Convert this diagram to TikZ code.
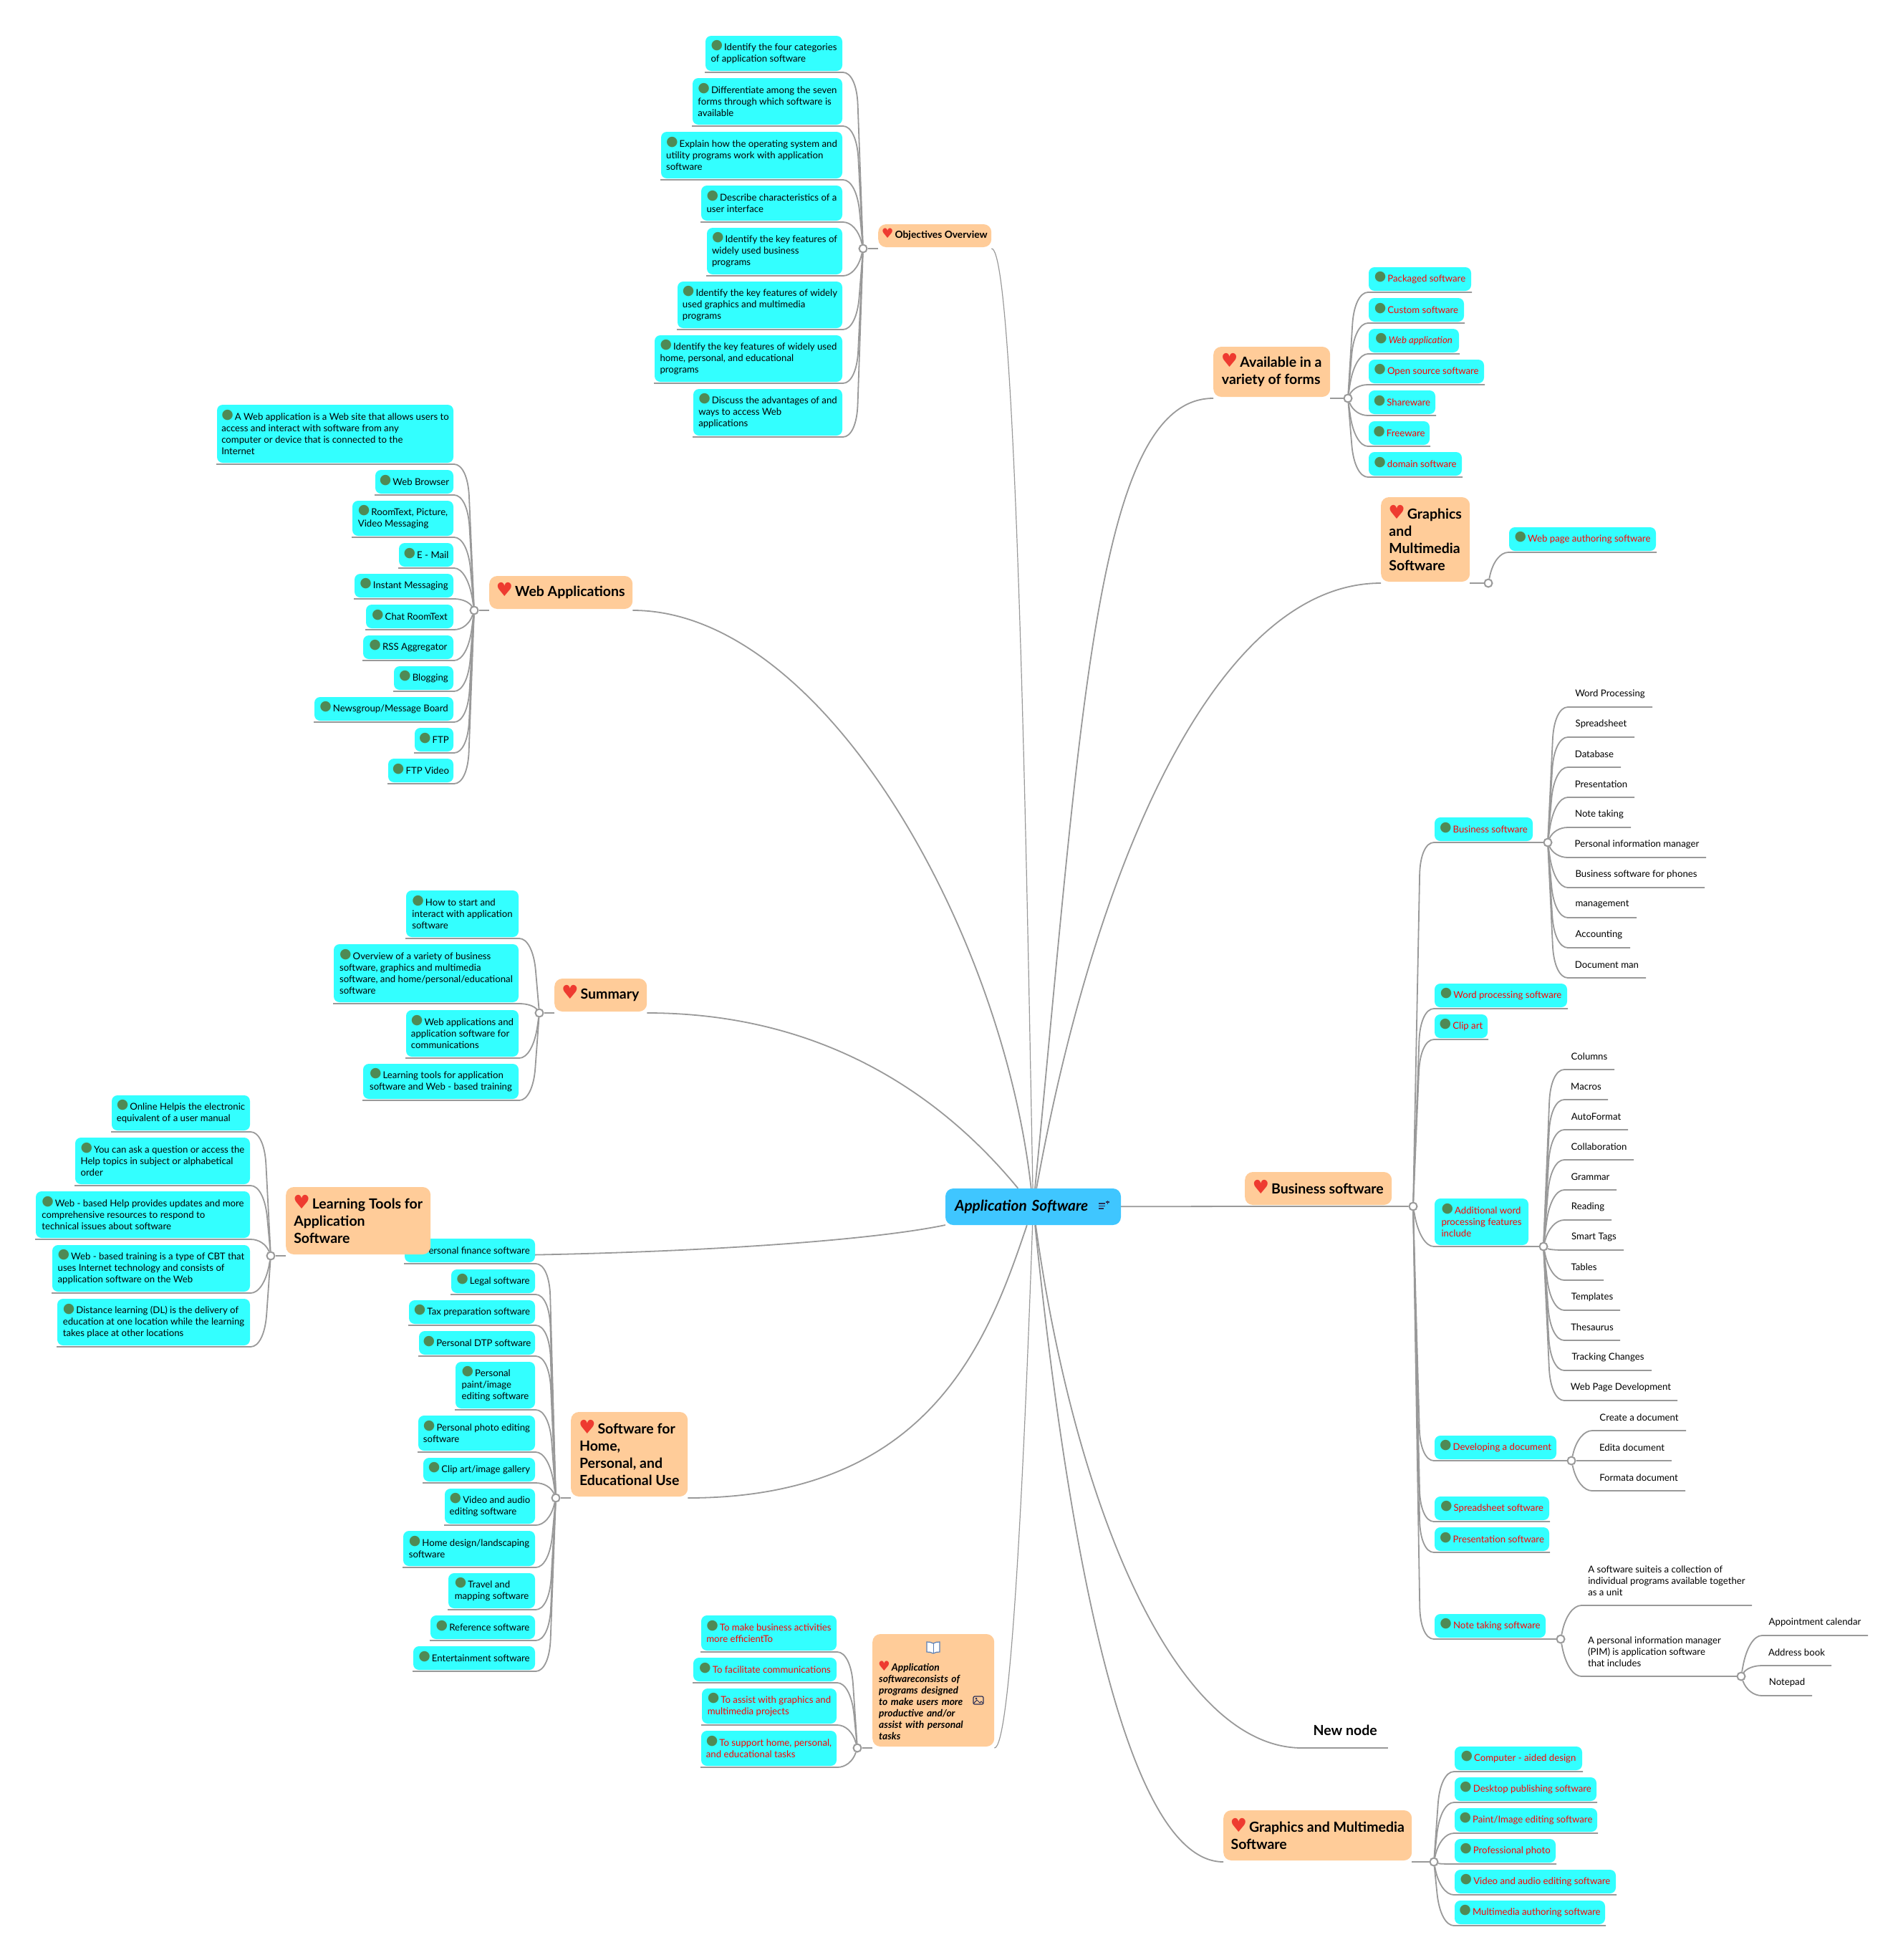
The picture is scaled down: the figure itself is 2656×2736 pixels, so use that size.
\documentclass[tikz,border=0pt]{standalone}
\usepackage{fontspec}
\usepackage{xcolor}
\usepackage{tikz}
\usetikzlibrary{backgrounds, calc}
\setmainfont{Lato}
\newfontfamily\dejavu{DejaVu Sans}
\definecolor{leafcyan}{HTML}{33FFFF}
\definecolor{branchorange}{HTML}{FFCC99}
\definecolor{rootblue}{HTML}{3FC6FF}
\definecolor{dotgreen}{HTML}{4F8A55}
\definecolor{heartred}{HTML}{EE3B30}
\definecolor{linegray}{HTML}{999999}
\definecolor{icondark}{HTML}{2B2F55}
\definecolor{bookblue}{HTML}{5A7FB5}
\newcommand{\grn}{\smash{\raisebox{1.5pt}{\textcolor{dotgreen}{\normalfont\dejavu\fontsize{19}{16}\selectfont ●}}}\hspace{2pt}}
\newcommand{\hrt}{\hspace{-1pt}\smash{\scalebox{1.35}{\textcolor{heartred}{\normalfont\dejavu ♥}}}\hspace{0.15em}}
\newcommand{\twigl}[2]{\draw[link] let \p1=(#1.south east), \p2=(#2), \n1={min(45,0.8*abs(\y2-\y1))}, \p3=($(\p1)+(19pt,0pt)$), \p4=($(\p3)!\n1!(#2)$) in (#1.south west) -- (\p1) .. controls ($(\p1)!0.6!(\p3)$) and ($(\p3)!0.4!(\p4)$) .. (\p4) -- (#2);}
\newcommand{\twigr}[2]{\draw[link] let \p1=(#1.south west), \p2=(#2), \n1={min(45,0.8*abs(\y2-\y1))}, \p3=($(\p1)+(-19pt,0pt)$), \p4=($(\p3)!\n1!(#2)$) in (#1.south east) -- (\p1) .. controls ($(\p1)!0.6!(\p3)$) and ($(\p3)!0.4!(\p4)$) .. (\p4) -- (#2);}
\tikzset{
    wd/.style={minimum width=#1pt},
    rows/.style={minimum height=#1*16pt+17pt},
    brows/.style={minimum height=#1*24pt+22pt},
    plainleaf/.style={align=left, inner xsep=2pt, inner ysep=0pt, outer xsep=1pt, outer ysep=2pt, rows=1, font=\fontsize{13.2}{16}\selectfont},
    leaf/.style={plainleaf, fill=leafcyan, rounded corners=8pt},
    leafl/.style={leaf, anchor=south east},
    leafr/.style={leaf, anchor=south west, text=red},
    redl/.style={leafl, text=red},
    sub/.style={plainleaf, anchor=south west},
    branch/.style={align=left, inner xsep=2pt, inner ysep=0pt, outer ysep=2pt, anchor=south west, fill=branchorange, rounded corners=11pt, font=\bfseries\fontsize{19.5}{24}\selectfont},
    hub/.style={circle, draw=linegray, fill=white, line width=2pt, minimum size=11pt, inner sep=0pt},
    link/.style={draw=linegray, line width=1.8pt},
    thinlink/.style={draw=linegray, line width=1.2pt}
}
\begin{document}
\begin{tikzpicture}[x=1pt, y=-1pt]
    \useasboundingbox (0,0) rectangle (2656,2736);

    \node[fill=rootblue, rounded corners=11pt, minimum height=51pt, text width=219pt, inner xsep=13pt, font=\bfseries\itshape\fontsize{20.8}{24}\selectfont] (root) at (1442.5,1684.5) {Application Software};

    % objectives
    \node[branch, wd=158, minimum height=32pt, font=\bfseries\fontsize{13.8}{16}\selectfont] (objectives) at (1226,347) {\hrt Objectives Overview};
    \node[hub] (objhub) at (1205,347) {};
    \node[leafl, wd=191, rows=2] (obj1) at (1177,101) {\grn Identify the four categories\\of application software};
    \node[leafl, wd=209, rows=3] (obj2) at (1177,176) {\grn Differentiate among the seven\\forms through which software is\\available};
    \node[leafl, wd=253, rows=3] (obj3) at (1177,251) {\grn Explain how the operating system and\\utility programs work with application\\software};
    \node[leafl, wd=197, rows=2] (obj4) at (1177,310) {\grn Describe characteristics of a\\user interface};
    \node[leafl, wd=189, rows=3] (obj5) at (1177,385) {\grn Identify the key features of\\widely used business\\programs};
    \node[leafl, wd=230, rows=3] (obj6) at (1177,460) {\grn Identify the key features of widely\\used graphics and multimedia\\programs};
    \node[leafl, wd=262, rows=3] (obj7) at (1177,535) {\grn Identify the key features of widely used\\home, personal, and educational\\programs};
    \node[leafl, wd=208, rows=3] (obj8) at (1177,610) {\grn Discuss the advantages of and\\ways to access Web\\applications};

    % web applications
    \node[branch, wd=200, brows=1] (webapps) at (683,852) {\hrt Web Applications};
    \node[hub] (webhub) at (662,852) {};
    \node[leafl, wd=330, rows=4] (web1) at (634,648) {\grn A Web application is a Web site that allows users to\\access and interact with software from any\\computer or device that is connected to the\\Internet};
    \node[leafl, wd=109] (web2) at (634,691) {\grn Web Browser};
    \node[leafl, wd=141, rows=2] (web3) at (634,750) {\grn RoomText, Picture,\\Video Messaging};
    \node[leafl, wd=76] (web4) at (634,793) {\grn E - Mail};
    \node[leafl, wd=138] (web5) at (634,836) {\grn Instant Messaging};
    \node[leafl, wd=122] (web6) at (634,879) {\grn Chat RoomText};
    \node[leafl, wd=126] (web7) at (634,922) {\grn RSS Aggregator};
    \node[leafl, wd=83] (web8) at (634,965) {\grn Blogging};
    \node[leafl, wd=194] (web9) at (634,1008) {\grn Newsgroup/Message Board};
    \node[leafl, wd=54] (web10) at (634,1051) {\grn FTP};
    \node[leafl, wd=91] (web11) at (634,1094) {\grn FTP Video};

    % summary
    \node[branch, wd=129, brows=1] (summary) at (774,1414) {\hrt Summary};
    \node[hub] (sumhub) at (753,1414) {};
    \node[leafl, wd=157, rows=3] (sum1) at (725,1310) {\grn How to start and\\interact with application\\software};
    \node[leafl, wd=258, rows=4] (sum2) at (725,1401) {\grn Overview of a variety of business\\software, graphics and multimedia\\software, and home/personal/educational\\software};
    \node[leafl, wd=157, rows=3] (sum3) at (725,1477) {\grn Web applications and\\application software for\\communications};
    \node[leafl, wd=217, rows=2] (sum4) at (725,1536) {\grn Learning tools for application\\software and Web - based training};

    % software for home
    \node[branch, wd=163, brows=4] (homeedu) at (797,2091) {\hrt Software for\\Home,\\Personal, and\\Educational Use};
    \node[hub] (homehub) at (776,2091) {};
    \node[leafl, wd=182] (home1) at (748,1764) {\grn Personal finance software};
    \node[leafl, wd=117] (home2) at (748,1807) {\grn Legal software};
    \node[leafl, wd=176] (home3) at (748,1850) {\grn Tax preparation software};
    \node[leafl, wd=162] (home4) at (748,1893) {\grn Personal DTP software};
    \node[leafl, wd=111, rows=3] (home5) at (748,1968) {\grn Personal\\paint/image\\editing software};
    \node[leafl, wd=163, rows=2] (home6) at (748,2027) {\grn Personal photo editing\\software};
    \node[leafl, wd=156] (home7) at (748,2070) {\grn Clip art/image gallery};
    \node[leafl, wd=126, rows=2] (home8) at (748,2129) {\grn Video and audio\\editing software};
    \node[leafl, wd=184, rows=2] (home9) at (748,2188) {\grn Home design/landscaping\\software};
    \node[leafl, wd=121, rows=2] (home10) at (748,2247) {\grn Travel and\\mapping software};
    \node[leafl, wd=146] (home11) at (748,2290) {\grn Reference software};
    \node[leafl, wd=170] (home12) at (748,2333) {\grn Entertainment software};

    % learning tools
    \node[branch, wd=202, brows=3] (learning) at (399,1753) {\hrt Learning Tools for\\Application\\Software};
    \node[hub] (learnhub) at (378,1753) {};
    \node[leafl, wd=193, rows=2] (learn1) at (350,1580) {\grn Online Helpis the electronic\\equivalent of a user manual};
    \node[leafl, wd=244, rows=3] (learn2) at (350,1655) {\grn You can ask a question or access the\\Help topics in subject or alphabetical\\order};
    \node[leafl, wd=299, rows=3] (learn3) at (350,1730) {\grn Web - based Help provides updates and more\\comprehensive resources to respond to\\technical issues about software};
    \node[leafl, wd=276, rows=3] (learn4) at (350,1805) {\grn Web - based training is a type of CBT that\\uses Internet technology and consists of\\application software on the Web};
    \node[leafl, wd=269, rows=3] (learn5) at (350,1880) {\grn Distance learning (DL) is the delivery of\\education at one location while the learning\\takes place at other locations};

    % definition
    \node[branch, text width=152pt, inner xsep=9pt, minimum height=157pt, font=\bfseries\itshape\fontsize{13.8}{16}\selectfont] (define) at (1218,2440) {\rule{0pt}{27pt}\\\hrt Application\\softwareconsists of\\programs designed\\to make users more\\productive and/or\\assist with personal\\tasks};
    \node[hub] (defhub) at (1197,2440) {};
    \node[redl, wd=189, rows=2] (def1) at (1169,2306) {\grn To make business activities\\more efficientTo};
    \node[redl, wd=200] (def2) at (1169,2349) {\grn To facilitate communications};
    \node[redl, wd=188, rows=2] (def3) at (1169,2408) {\grn To assist with graphics and\\multimedia projects};
    \node[redl, wd=189, rows=2] (def4) at (1169,2467) {\grn To support home, personal,\\and educational tasks};

    % available in a variety of forms
    \node[branch, wd=163, brows=2] (avail) at (1694,556) {\hrt Available in a\\variety of forms};
    \node[hub] (availhub) at (1882,556) {};
    \node[leafr, wd=143] (avail1) at (1910,408) {\grn Packaged software};
    \node[leafr, wd=133] (avail2) at (1910,451) {\grn Custom software};
    \node[leafr, wd=126] (avail3) at (1910,494) {\grn \textit{Web application}};
    \node[leafr, wd=161] (avail4) at (1910,537) {\grn Open source software};
    \node[leafr, wd=93] (avail5) at (1910,580) {\grn Shareware};
    \node[leafr, wd=85] (avail6) at (1910,623) {\grn Freeware};
    \node[leafr, wd=130] (avail7) at (1910,666) {\grn domain software};

    % graphics, upper
    \node[branch, wd=124, brows=4] (graph) at (1928,814) {\hrt Graphics\\and\\Multimedia\\Software};
    \node[hub] (graphhub) at (2078,814) {};
    \node[leafr, wd=205] (graph1) at (2106,771) {\grn Web page authoring software};

    % business software
    \node[branch, wd=205, brows=1] (bussoft) at (1738,1684) {\hrt Business software};
    \node[hub] (bushub) at (1973,1684) {};
    \node[leafr, wd=137] (bus1) at (2002,1176) {\grn Business software};
    \node[leafr, wd=185] (bus2) at (2002,1408) {\grn Word processing software};
    \node[leafr, wd=74] (bus3) at (2002,1451) {\grn Clip art};
    \node[leafr, wd=131, rows=3] (bus4) at (2002,1740) {\grn Additional word\\processing features\\include};
    \node[leafr, wd=170] (bus5) at (2002,2039) {\grn Developing a document};
    \node[leafr, wd=160] (bus6) at (2002,2124) {\grn Spreadsheet software};
    \node[leafr, wd=160] (bus7) at (2002,2167) {\grn Presentation software};
    \node[leafr, wd=155] (bus8) at (2002,2288) {\grn Note taking software};

    \node[hub] (bs) at (2161,1176) {};
    \node[sub, wd=116] (bs1) at (2189,987) {Word Processing};
    \node[sub, wd=91] (bs2) at (2189,1029) {Spreadsheet};
    \node[sub, wd=72] (bs3) at (2189,1071) {Database};
    \node[sub, wd=91] (bs4) at (2189,1113) {Presentation};
    \node[sub, wd=86] (bs5) at (2189,1155) {Note taking};
    \node[sub, wd=191] (bs6) at (2189,1197) {Personal information manager};
    \node[sub, wd=189] (bs7) at (2189,1239) {Business software for phones};
    \node[sub, wd=94] (bs8) at (2189,1281) {management};
    \node[sub, wd=85] (bs9) at (2189,1323) {Accounting};
    \node[sub, wd=107] (bs10) at (2189,1365) {Document man};

    \node[hub] (wp) at (2155,1740) {};
    \node[sub, wd=68] (wp1) at (2184,1493) {Columns};
    \node[sub, wd=59] (wp2) at (2184,1535) {Macros};
    \node[sub, wd=87] (wp3) at (2184,1577) {AutoFormat};
    \node[sub, wd=95] (wp4) at (2184,1619) {Collaboration};
    \node[sub, wd=71] (wp5) at (2184,1661) {Grammar};
    \node[sub, wd=64] (wp6) at (2184,1703) {Reading};
    \node[sub, wd=81] (wp7) at (2184,1745) {Smart Tags};
    \node[sub, wd=53] (wp8) at (2184,1787) {Tables};
    \node[sub, wd=76] (wp9) at (2184,1829) {Templates};
    \node[sub, wd=76] (wp10) at (2184,1871) {Thesaurus};
    \node[sub, wd=120] (wp11) at (2184,1913) {Tracking Changes};
    \node[sub, wd=156] (wp12) at (2184,1955) {Web Page Development};

    \node[hub] (doc) at (2194,2039) {};
    \node[sub, wd=129] (doc1) at (2223,1997) {Create a document};
    \node[sub, wd=109] (doc2) at (2223,2039) {Edita document};
    \node[sub, wd=128] (doc3) at (2223,2081) {Formata document};

    \node[hub] (note) at (2179,2288) {};
    \node[sub, wd=236, rows=3] (note1) at (2208,2241) {A software suiteis a collection of\\individual programs available together\\as a unit};
    \node[sub, wd=202, rows=3] (note2) at (2208,2340) {A personal information manager\\(PIM) is application software\\that includes};
    \node[hub] (pim) at (2431,2340) {};
    \node[sub, wd=146] (pim1) at (2460,2283) {Appointment calendar};
    \node[sub, wd=95] (pim2) at (2460,2325) {Address book};
    \node[sub, wd=68] (pim3) at (2460,2367) {Notepad};

    % new node
    \node[branch, wd=120, brows=1, fill=none] (newnode) at (1818,2440) {New node};

    % graphics, lower
    \node[branch, wd=263, brows=2] (gmm) at (1708,2599) {\hrt Graphics and Multimedia\\Software};
    \node[hub] (gmmhub) at (2002,2599) {};
    \node[leafr, wd=178] (gmm1) at (2030,2473) {\grn Computer - aided design};
    \node[leafr, wd=198] (gmm2) at (2030,2516) {\grn Desktop publishing software};
    \node[leafr, wd=199] (gmm3) at (2030,2559) {\grn Paint/Image editing software};
    \node[leafr, wd=141] (gmm4) at (2030,2602) {\grn Professional photo};
    \node[leafr, wd=225] (gmm5) at (2030,2645) {\grn Video and audio editing software};
    \node[leafr, wd=210] (gmm6) at (2030,2688) {\grn Multimedia authoring software};

    % icons
    \draw[icondark, line width=1.2pt] (1534,1680) -- (1543,1680) (1534,1683.5) -- (1543,1683.5) (1534,1687) -- (1541,1687) (1544,1678) -- (1549,1678) (1546.5,1675.5) -- (1546.5,1680.5);
    \draw[draw=bookblue, fill=white, line width=1.2pt] (1303,2294) to[bend right=15] (1294,2292) -- (1294,2306) to[bend left=15] (1303,2308) to[bend left=15] (1312,2306) -- (1312,2292) to[bend right=15] cycle;
    \draw[bookblue, line width=1pt] (1303,2294) -- (1303,2308);
    \draw[icondark, line width=1.2pt, rounded corners=2pt] (1359,2368) rectangle (1373,2379);
    \draw[icondark, line width=1pt] (1359,2378) -- (1364,2373) -- (1368,2377) -- (1370,2375) -- (1373,2378);
    \fill[icondark] (1363,2371) circle (1.5);

    \begin{scope}[on background layer]
        % root to branches
        \draw[link] (root) -- (bussoft.south west) -- (bushub);
        \draw[thinlink] (objectives.south east) .. controls (1420,347) and (1435,1300) .. (root);
        \draw[thinlink] (define.south east) .. controls (1410,2440) and (1428,2100) .. (root);
        \draw[link] (avail.south west) .. controls (1530,556) and (1510,1000) .. (root);
        \draw[link] (graph.south west) .. controls (1700,814) and (1530,1200) .. (root);
        \draw[link] (webapps.south east) .. controls (1150,852) and (1400,1300) .. (root);
        \draw[link] (summary.south east) .. controls (1180,1414) and (1340,1560) .. (root);
        \draw[link] (learning.south east) .. controls (900,1753) and (1200,1735) .. (root);
        \draw[link] (homeedu.south east) .. controls (1300,2091) and (1380,1870) .. (root);
        \draw[link] (newnode.south west) .. controls (1640,2440) and (1500,2100) .. (root);
        \draw[link] (gmm.south west) .. controls (1570,2599) and (1490,2150) .. (root);

        % branches to hubs
        \draw[link] (objectives.south west) -- (objhub);
        \draw[link] (webapps.south west) -- (webhub);
        \draw[link] (summary.south west) -- (sumhub);
        \draw[link] (homeedu.south west) -- (homehub);
        \draw[link] (learning.south west) -- (learnhub);
        \draw[link] (define.south west) -- (defhub);
        \draw[link] (avail.south east) -- (availhub);
        \draw[link] (graph.south east) -- (graphhub);
        \draw[link] (gmm.south east) -- (gmmhub);
        \draw[link] (newnode.south west) -- (newnode.south east);
        \draw[link] (bus1.south east) -- (bs);
        \draw[link] (bus4.south east) -- (wp);
        \draw[link] (bus5.south east) -- (doc);
        \draw[link] (bus8.south east) -- (note);
        \draw[link] (note2.south east) -- (pim);

        % hubs to leaves
        \foreach \tip in {obj1,obj2,obj3,obj4,obj5,obj6,obj7,obj8} {\twigl{\tip}{objhub}}
        \foreach \tip in {web1,web2,web3,web4,web5,web6,web7,web8,web9,web10,web11} {\twigl{\tip}{webhub}}
        \foreach \tip in {sum1,sum2,sum3,sum4} {\twigl{\tip}{sumhub}}
        \foreach \tip in {home1,home2,home3,home4,home5,home6,home7,home8,home9,home10,home11,home12} {\twigl{\tip}{homehub}}
        \foreach \tip in {learn1,learn2,learn3,learn4,learn5} {\twigl{\tip}{learnhub}}
        \foreach \tip in {def1,def2,def3,def4} {\twigl{\tip}{defhub}}
        \foreach \tip in {avail1,avail2,avail3,avail4,avail5,avail6,avail7} {\twigr{\tip}{availhub}}
        \twigr{graph1}{graphhub}
        \foreach \tip in {bus1,bus2,bus3,bus4,bus5,bus6,bus7,bus8} {\twigr{\tip}{bushub}}
        \foreach \tip in {bs1,bs2,bs3,bs4,bs5,bs6,bs7,bs8,bs9,bs10} {\twigr{\tip}{bs}}
        \foreach \tip in {wp1,wp2,wp3,wp4,wp5,wp6,wp7,wp8,wp9,wp10,wp11,wp12} {\twigr{\tip}{wp}}
        \foreach \tip in {doc1,doc2,doc3} {\twigr{\tip}{doc}}
        \foreach \tip in {note1,note2} {\twigr{\tip}{note}}
        \foreach \tip in {pim1,pim2,pim3} {\twigr{\tip}{pim}}
        \foreach \tip in {gmm1,gmm2,gmm3,gmm4,gmm5,gmm6} {\twigr{\tip}{gmmhub}}
    \end{scope}
\end{tikzpicture}
\end{document}
